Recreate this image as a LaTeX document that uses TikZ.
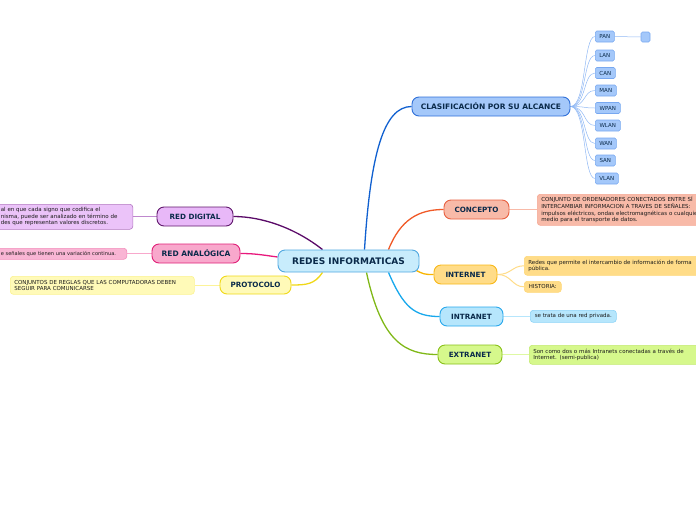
\documentclass[tikz,border=0pt]{standalone}
\usepackage{fontspec}
\setmainfont{DejaVu Sans}
\usetikzlibrary{backgrounds,calc}
\definecolor{ink}{HTML}{0A2A4A}
\definecolor{noteink}{HTML}{1A1A1A}
\definecolor{cenF}{HTML}{C8ECFC}\definecolor{cenD}{HTML}{50A8E0}
\definecolor{clF}{HTML}{A4C8FA}\definecolor{clD}{HTML}{3070D8}\definecolor{clL}{HTML}{1060D0}
\definecolor{coF}{HTML}{F8BAA8}\definecolor{coD}{HTML}{E86040}\definecolor{coL}{HTML}{F05A28}
\definecolor{inF}{HTML}{FFDC88}\definecolor{inD}{HTML}{F8B818}\definecolor{inL}{HTML}{F8B400}
\definecolor{itF}{HTML}{B6E6FC}\definecolor{itD}{HTML}{28A8EC}\definecolor{itL}{HTML}{18A8EC}
\definecolor{exF}{HTML}{D6F88C}\definecolor{exD}{HTML}{88C018}\definecolor{exL}{HTML}{80B818}
\definecolor{diF}{HTML}{E8B8F8}\definecolor{diD}{HTML}{60186C}\definecolor{diL}{HTML}{5A0A68}
\definecolor{anF}{HTML}{F8A8CC}\definecolor{anD}{HTML}{E02078}\definecolor{anL}{HTML}{E8187C}
\definecolor{prF}{HTML}{FFFAB8}\definecolor{prD}{HTML}{F0D818}\definecolor{prL}{HTML}{F0D818}
\definecolor{chD}{HTML}{78A8F0}\definecolor{chL}{HTML}{90B8F4}
\begin{document}
\begin{tikzpicture}[x=1pt,y=-1pt,
  mainnode/.style={draw, line width=0.9pt, rounded corners=7pt, inner sep=0pt,
    minimum height=19pt, text=ink, font=\fontsize{7.2}{8}\selectfont\bfseries},
  note/.style={draw, line width=0.6pt, rounded corners=3pt, inner xsep=4pt, inner ysep=2.5pt,
    align=left, text=noteink, font=\fontsize{5.5}{6.6}\selectfont, anchor=north west},
  child/.style={draw=chD, fill=clF, line width=0.6pt, rounded corners=1.5pt, inner sep=0pt,
    minimum height=11pt, text=ink, font=\fontsize{5.5}{6}\selectfont, anchor=west},
  conn/.style={line width=1.3pt},
  nconn/.style={line width=1pt},
  cconn/.style={line width=0.5pt, draw=chL}]
\useasboundingbox (0,0) rectangle (696,520);
\begin{scope}
\clip (0,0) rectangle (696,520);
% main nodes
\node[mainnode, fill=cenF, draw=cenD, minimum width=141pt, minimum height=22pt,
  font=\fontsize{9}{10}\selectfont\bfseries] (c) at (348.5,261) {REDES INFORMATICAS};
\node[mainnode, fill=clF, draw=clD, minimum width=158pt, font=\fontsize{7.5}{8}\selectfont\bfseries] (cl) at (491,106.5) {CLASIFICACIÓN POR SU ALCANCE};
\node[mainnode, fill=coF, draw=coD, minimum width=65pt] (co) at (476.5,209.5) {CONCEPTO};
\node[mainnode, fill=inF, draw=inD, minimum width=63pt] (in) at (465.5,274.5) {INTERNET};
\node[mainnode, fill=itF, draw=itD, minimum width=63pt] (it) at (471.5,316.5) {INTRANET};
\node[mainnode, fill=exF, draw=exD, minimum width=64pt] (ex) at (470,354.5) {EXTRANET};
\node[mainnode, fill=diF, draw=diD, minimum width=76pt] (di) at (195,216.5) {RED DIGITAL};
\node[mainnode, fill=anF, draw=anD, minimum width=88pt, font=\fontsize{7.5}{8}\selectfont\bfseries] (an) at (196,253.5) {RED ANALÓGICA};
\node[mainnode, fill=prF, draw=prD, minimum width=71pt, minimum height=18pt] (pr) at (255.5,285) {PROTOCOLO};
% notes
\node[note, fill=coF, draw=coF!80!coD, text width=175pt, minimum height=31pt] (con) at (537,194)
  {CONJUNTO DE ORDENADORES CONECTADOS ENTRE SÍ\\INTERCAMBIAR INFORMACION A TRAVES DE SEÑALES:\\impulsos eléctricos, ondas electromagnéticas o cualquie\\medio para el transporte de datos.};
\node[note, fill=inF, draw=inF!85!inD, text width=180pt, minimum height=19pt] (inn1) at (524,256)
  {Redes que permite el intercambio de información de forma\\pública.};
\node[note, fill=inF, draw=inF!85!inD, minimum width=37pt, minimum height=11pt, inner xsep=3pt, inner ysep=1pt] (inn2) at (524,281) {HISTORIA:};
\node[note, fill=itF, draw=itF!70!itD, minimum width=86pt, minimum height=12pt, inner ysep=1pt] (itn) at (530,310) {se trata de una red privada.};
\node[note, fill=exF, draw=exF!75!exD, text width=180pt, minimum height=19pt] (exn) at (529,345)
  {Son como dos o más Intranets conectadas a través de\\Internet. (semi-publica)};
\node[note, fill=prF, draw=prF!75!prD, text width=176pt, minimum height=18pt] (prn) at (10,276)
  {CONJUNTOS DE REGLAS QUE LAS COMPUTADORAS DEBEN\\SEGUIR PARA COMUNICARSE};
\node[note, fill=diF!85!white, draw=diF!60!diD, text width=127.5pt, minimum height=25pt, inner xsep=4.5pt] (din) at (-4,204)
  {al en que cada signo que codifica el\\nisma, puede ser analizado en término de\\des que representan valores discretos.};
\node[note, fill=anF!85!white, draw=anF!80!anD, text width=121.5pt, minimum height=11pt, inner xsep=4.5pt, inner ysep=1pt,
  font=\fontsize{5.1}{6}\selectfont] (ann) at (-4,248)
  {\mbox{e señales que tienen una variación continua.}};
% children of clasificacion
\node[child, minimum width=19pt] (pan) at (595,36.5) {PAN};
\node[child, minimum width=19pt] (lan) at (595,55.5) {LAN};
\node[child, minimum width=20pt] (can) at (595,73) {CAN};
\node[child, minimum width=21pt] (man) at (595,90.5) {MAN};
\node[child, minimum width=25pt] (wpan) at (595,108) {WPAN};
\node[child, minimum width=25pt] (wlan) at (595,125.5) {WLAN};
\node[child, minimum width=21pt] (wan) at (595,143.5) {WAN};
\node[child, minimum width=20pt] (san) at (595,160.5) {SAN};
\node[child, minimum width=23pt] (vlan) at (595,178.5) {VLAN};
\node[child, minimum width=9pt, minimum height=10pt, anchor=center] (emp) at (645.5,37) {};
\end{scope}
\begin{pgfonlayer}{background}
% main connectors
\draw[conn, clL] ($(c.north)+(16,0)$) .. controls +(6,-95) and +(-28,0) .. (cl.west);
\draw[conn, coL] ($(c.north)+(40,0)$) .. controls +(12,-30) and +(-25,0) .. (co.west);
\draw[conn, inL] ($(c.east)+(-4,9)$) .. controls +(8,4) and +(-10,0) .. (in.west);
\draw[conn, itL] ($(c.south)+(40,0)$) .. controls +(15,35) and +(-25,0) .. (it.west);
\draw[conn, exL] ($(c.south)+(18,0)$) .. controls +(15,70) and +(-32,0) .. (ex.west);
\draw[conn, diL] ($(c.north)+(-26,0)$) .. controls +(-28,-22) and +(28,0) .. (di.east);
\draw[conn, anL] ($(c.west)+(0,-4)$) .. controls +(-15,-2) and +(15,0) .. (an.east);
\draw[conn, prL] ($(c.south)+(-26,0)$) .. controls +(-8,12) and +(15,0) .. (pr.east);
% note connectors
\draw[nconn, coF] (co.east) -- (co.east -| con.west);
\draw[nconn, inF] (in.east) .. controls +(14,0) and +(-12,0) .. (inn1.west);
\draw[nconn, inF] (in.east) .. controls +(14,0) and +(-12,0) .. (inn2.west);
\draw[nconn, itF] (it.east) -- (it.east -| itn.west);
\draw[nconn, exF!80!white] (ex.east) -- (ex.east -| exn.west);
\draw[nconn, prF!80!prD] (pr.west) -- (pr.west -| prn.east);
\draw[nconn, diF!70!diD] (di.west) -- (di.west -| din.east);
\draw[nconn, anF] (an.west) -- (an.west -| ann.east);
% clasificacion children
\foreach \n in {pan,lan,can,man,wpan,wlan,wan,san,vlan}
  \draw[cconn] (cl.east) .. controls +(16,0) and +(-12,0) .. (\n.west);
\draw[cconn] (pan.east) -- (emp.west);
\end{pgfonlayer}
\end{tikzpicture}
\end{document}
